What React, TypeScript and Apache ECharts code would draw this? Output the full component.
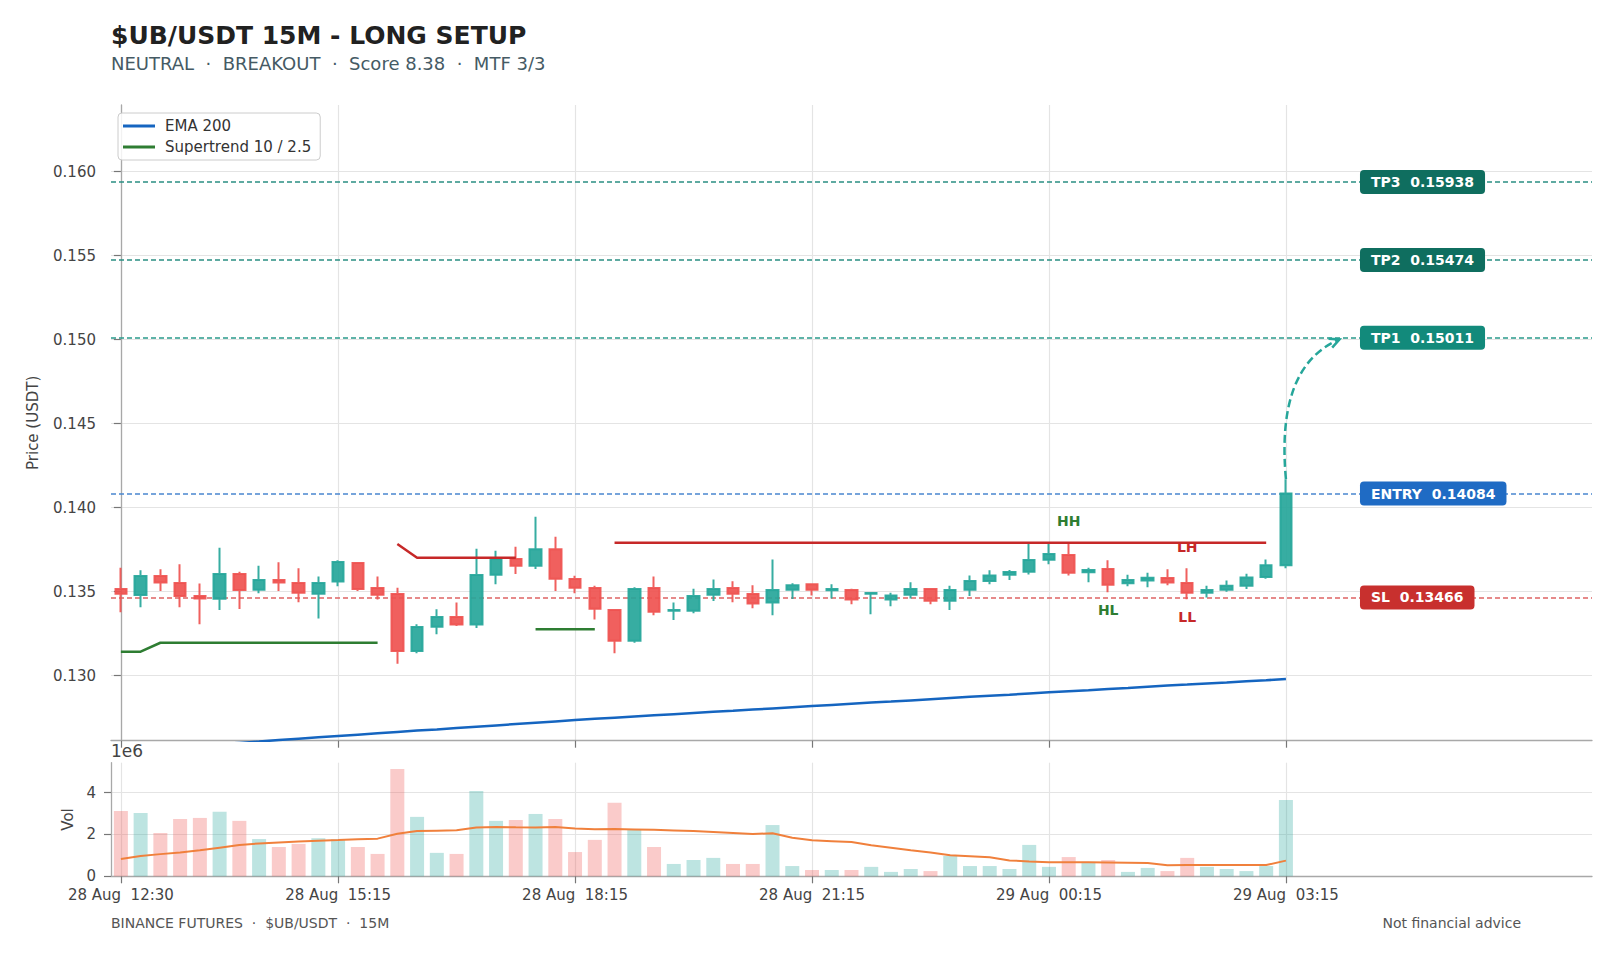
import React, { useEffect, useRef } from 'react';
import * as echarts from 'echarts';

// ---------- data ----------
const TIMES = [
  '12:30', '12:45', '13:00', '13:15', '13:30', '13:45', '14:00', '14:15', '14:30', '14:45',
  '15:00', '15:15', '15:30', '15:45', '16:00', '16:15', '16:30', '16:45', '17:00', '17:15',
  '17:30', '17:45', '18:00', '18:15', '18:30', '18:45', '19:00', '19:15', '19:30', '19:45',
  '20:00', '20:15', '20:30', '20:45', '21:00', '21:15', '21:30', '21:45', '22:00', '22:15',
  '22:30', '22:45', '23:00', '23:15', '23:30', '23:45', '00:00', '00:15', '00:30', '00:45',
  '01:00', '01:15', '01:30', '01:45', '02:00', '02:15', '02:30', '02:45', '03:00', '03:15',
];
const TICK_INDEX = [0, 11, 23, 35, 47, 59];
const TICK_LABELS = ['28 Aug  12:30', '28 Aug  15:15', '28 Aug  18:15', '28 Aug  21:15', '29 Aug  00:15', '29 Aug  03:15'];
const PRICE_TICKS = [0.13, 0.135, 0.14, 0.145, 0.15, 0.155, 0.16];
const VOL_TICKS = [0, 2, 4];

const OPEN = [
  0.13516, 0.13480, 0.13593, 0.13552, 0.13474, 0.13458, 0.13605, 0.13512, 0.13569, 0.13552,
  0.13488, 0.13560, 0.13671, 0.13522, 0.13486, 0.13147, 0.13292, 0.13349, 0.13304, 0.13601,
  0.13694, 0.13655, 0.13752, 0.13575, 0.13522, 0.13391, 0.13208, 0.13522, 0.13387, 0.13387,
  0.13482, 0.13522, 0.13486, 0.13435, 0.13512, 0.13544, 0.13508, 0.13510, 0.13488, 0.13454,
  0.13482, 0.13516, 0.13446, 0.13512, 0.13564, 0.13601, 0.13619, 0.13690, 0.13718, 0.13615,
  0.13635, 0.13550, 0.13566, 0.13581, 0.13552, 0.13494, 0.13512, 0.13536, 0.13587, 0.13657,
];
const CLOSE = [
  0.13488, 0.13593, 0.13554, 0.13474, 0.13460, 0.13605, 0.13510, 0.13569, 0.13554, 0.13494,
  0.13552, 0.13677, 0.13516, 0.13482, 0.13147, 0.13290, 0.13349, 0.13304, 0.13599, 0.13694,
  0.13655, 0.13752, 0.13577, 0.13524, 0.13399, 0.13208, 0.13516, 0.13381, 0.13391, 0.13474,
  0.13516, 0.13488, 0.13429, 0.13510, 0.13538, 0.13512, 0.13516, 0.13454, 0.13492, 0.13478,
  0.13516, 0.13446, 0.13510, 0.13564, 0.13597, 0.13617, 0.13688, 0.13724, 0.13613, 0.13629,
  0.13542, 0.13570, 0.13583, 0.13554, 0.13494, 0.13510, 0.13536, 0.13585, 0.13657, 0.14084,
];
const LOW = [
  0.13377, 0.13407, 0.13504, 0.13407, 0.13306, 0.13391, 0.13397, 0.13490, 0.13504, 0.13437,
  0.13341, 0.13532, 0.13504, 0.13454, 0.13071, 0.13133, 0.13246, 0.13296, 0.13284, 0.13544,
  0.13605, 0.13635, 0.13504, 0.13490, 0.13335, 0.13133, 0.13196, 0.13359, 0.13331, 0.13371,
  0.13444, 0.13437, 0.13401, 0.13359, 0.13456, 0.13478, 0.13460, 0.13425, 0.13365, 0.13413,
  0.13460, 0.13425, 0.13391, 0.13474, 0.13544, 0.13570, 0.13603, 0.13663, 0.13597, 0.13556,
  0.13496, 0.13532, 0.13526, 0.13538, 0.13455, 0.13465, 0.13500, 0.13516, 0.13577, 0.13639,
];
const HIGH = [
  0.13643, 0.13627, 0.13633, 0.13663, 0.13548, 0.13762, 0.13619, 0.13655, 0.13675, 0.13639,
  0.13591, 0.13687, 0.13677, 0.13591, 0.13524, 0.13306, 0.13395, 0.13435, 0.13756, 0.13744,
  0.13768, 0.13946, 0.13827, 0.13595, 0.13536, 0.13397, 0.13526, 0.13591, 0.13435, 0.13518,
  0.13573, 0.13562, 0.13538, 0.13692, 0.13550, 0.13550, 0.13544, 0.13518, 0.13494, 0.13494,
  0.13556, 0.13520, 0.13536, 0.13596, 0.13627, 0.13629, 0.13784, 0.13784, 0.13792, 0.13643,
  0.13687, 0.13601, 0.13613, 0.13633, 0.13639, 0.13536, 0.13566, 0.13607, 0.13692, 0.14170,
];
// volume in millions
const VOLUME = [
  3.12, 3.03, 2.07, 2.74, 2.79, 3.08, 2.65, 1.78, 1.40, 1.55,
  1.82, 1.77, 1.40, 1.07, 5.13, 2.84, 1.12, 1.07, 4.08, 2.65,
  2.69, 2.98, 2.74, 1.16, 1.74, 3.51, 2.25, 1.40, 0.59, 0.78,
  0.88, 0.59, 0.59, 2.45, 0.49, 0.30, 0.30, 0.30, 0.45, 0.21,
  0.35, 0.25, 0.97, 0.49, 0.49, 0.35, 1.50, 0.45, 0.92, 0.69,
  0.78, 0.21, 0.40, 0.25, 0.88, 0.45, 0.35, 0.25, 0.49, 3.65,
];
const VOLUME_MA = [
  0.83, 0.97, 1.06, 1.14, 1.24, 1.37, 1.50, 1.57, 1.62, 1.66,
  1.70, 1.73, 1.77, 1.80, 2.03, 2.16, 2.18, 2.20, 2.33, 2.36,
  2.34, 2.33, 2.36, 2.29, 2.25, 2.26, 2.24, 2.22, 2.19, 2.16,
  2.12, 2.07, 2.02, 2.06, 1.84, 1.72, 1.68, 1.64, 1.48, 1.37,
  1.25, 1.14, 1.01, 0.96, 0.91, 0.76, 0.71, 0.67, 0.67, 0.67,
  0.66, 0.65, 0.64, 0.53, 0.54, 0.54, 0.54, 0.54, 0.54, 0.75,
];
const EMA200 = [
  0.12551, 0.12559, 0.12567, 0.12575, 0.12584, 0.12592, 0.12600, 0.12608, 0.12617, 0.12625,
  0.12633, 0.12641, 0.12649, 0.12657, 0.12665, 0.12673, 0.12680, 0.12688, 0.12696, 0.12704,
  0.12712, 0.12720, 0.12728, 0.12736, 0.12743, 0.12750, 0.12757, 0.12764, 0.12771, 0.12778,
  0.12785, 0.12791, 0.12798, 0.12805, 0.12812, 0.12819, 0.12826, 0.12833, 0.12840, 0.12846,
  0.12853, 0.12860, 0.12867, 0.12874, 0.12881, 0.12887, 0.12894, 0.12901, 0.12908, 0.12914,
  0.12921, 0.12927, 0.12934, 0.12941, 0.12947, 0.12954, 0.12960, 0.12967, 0.12973, 0.12980,
];
const ST_UP = [
  0.13143, 0.13143, 0.13196, 0.13196, 0.13196, 0.13196, 0.13196, 0.13196, 0.13196, 0.13196,
  0.13196, 0.13196, 0.13196, 0.13196, null, null, null, null, null, null,
  null, 0.13276, 0.13276, 0.13276, 0.13276, null, null, null, null, null,
  null, null, null, null, null, null, null, null, null, null,
  null, null, null, null, null, null, null, null, null, null,
  null, null, null, null, null, null, null, null, null, null,
];
const ST_DOWN = [
  null, null, null, null, null, null, null, null, null, null,
  null, null, null, null, 0.13784, 0.13702, 0.13702, 0.13702, 0.13702, 0.13702,
  0.13702, null, null, null, null, 0.13792, 0.13792, 0.13792, 0.13792, 0.13792,
  0.13792, 0.13792, 0.13792, 0.13792, 0.13792, 0.13792, 0.13792, 0.13792, 0.13792, 0.13792,
  0.13792, 0.13792, 0.13792, 0.13792, 0.13792, 0.13792, 0.13792, 0.13792, 0.13792, 0.13792,
  0.13792, 0.13792, 0.13792, 0.13792, 0.13792, 0.13792, 0.13792, 0.13792, 0.13792, null,
];
const LEVEL_NAMES = ['TP3', 'TP2', 'TP1', 'ENTRY', 'SL'];
const LEVEL_PRICES = [0.15938, 0.15474, 0.15011, 0.14084, 0.13466];
const STRUCT_LABELS = ['HH', 'HL', 'LH', 'LL'];
const STRUCT_INDEX = [48, 50, 54, 54];
const STRUCT_PRICES = [0.1392, 0.13391, 0.13764, 0.13351];

// ---------- layout / style ----------
const FONT = '"DejaVu Sans", "Noto Sans", sans-serif';
const N_CATS = 75;
const LABEL_X = 62.75;
const ARROW_END_X = 61.9;
const UP = '#26a69a';
const DOWN = '#ef5350';
const LEVEL_BOX = ['#0f6e5f', '#0f6e5f', '#128a7b', '#1f6bc4', '#c8302e'];
const LEVEL_LINE = ['#2a8f82', '#2a8f82', '#2a9a8c', '#4a86d0', '#de6464'];
const STRUCT_COLORS = ['#2e7d32', '#2e7d32', '#c62828', '#c62828'];
const GRID_LEFT = 111;
const GRID_WIDTH = 1481;
const AXIS_COLOR = '#a8a8a8';
const SPLIT_COLOR = '#e4e4e4';
const LABEL_COLOR = '#444';

const CATS = [...TIMES, ...new Array(N_CATS - TIMES.length).fill('')];
const isTick = (i: number) => TICK_INDEX.indexOf(i) >= 0;

function buildOption(): any {
  const candleData = OPEN.map((o, i) => [o, CLOSE[i], LOW[i], HIGH[i]]);
  const volData = VOLUME.map((v, i) => ({
    value: v,
    itemStyle: { color: CLOSE[i] >= OPEN[i] ? 'rgba(38,166,154,0.3)' : 'rgba(239,83,80,0.3)' },
  }));
  const last = CLOSE.length - 1;

  return {
    animation: false,
    backgroundColor: '#ffffff',
    textStyle: { fontFamily: FONT },
    grid: [
      { left: GRID_LEFT, width: GRID_WIDTH, top: 105, height: 635.7 },
      { left: GRID_LEFT, width: GRID_WIDTH, top: 762.7, height: 113.6 },
    ],
    legend: {
      left: 118,
      top: 113,
      orient: 'vertical',
      selectedMode: false,
      icon: 'rect',
      itemWidth: 32,
      itemHeight: 3,
      itemGap: 5,
      padding: [5, 9, 5, 5],
      backgroundColor: 'rgba(255,255,255,0.85)',
      borderColor: '#cccccc',
      borderWidth: 1,
      borderRadius: 4,
      textStyle: { fontFamily: FONT, fontSize: 15, color: '#333', lineHeight: 16, padding: [0, 0, 0, 5] },
      data: ['EMA 200', 'Supertrend 10 / 2.5'],
    },
    xAxis: [
      {
        type: 'category',
        gridIndex: 0,
        data: CATS,
        boundaryGap: true,
        axisLine: { show: true, lineStyle: { color: AXIS_COLOR, width: 1.3 } },
        axisTick: { show: true, alignWithLabel: true, interval: (i: number) => isTick(i), length: 7, lineStyle: { color: '#777', width: 1.2 } },
        axisLabel: { show: false },
        splitLine: { show: true, alignWithLabel: true, interval: (i: number) => isTick(i), lineStyle: { color: SPLIT_COLOR, width: 1.2 } },
      },
      {
        type: 'value',
        gridIndex: 0,
        min: -0.5,
        max: N_CATS - 0.5,
        show: false,
        splitLine: { show: false },
      },
      {
        type: 'category',
        gridIndex: 1,
        data: CATS,
        boundaryGap: true,
        axisLine: { show: true, lineStyle: { color: AXIS_COLOR, width: 1.3 } },
        axisTick: { show: true, alignWithLabel: true, interval: (i: number) => isTick(i), length: 7, lineStyle: { color: '#777', width: 1.2 } },
        axisLabel: {
          show: true,
          interval: (i: number) => isTick(i),
          formatter: (_v: string, i: number) => {
            const k = TICK_INDEX.indexOf(i);
            return k >= 0 ? TICK_LABELS[k] : '';
          },
          color: LABEL_COLOR,
          fontSize: 15,
          fontFamily: FONT,
          margin: 11,
        },
        splitLine: { show: true, alignWithLabel: true, interval: (i: number) => isTick(i), lineStyle: { color: SPLIT_COLOR, width: 1.2 } },
      },
    ],
    yAxis: [
      {
        type: 'value',
        gridIndex: 0,
        min: 0.12613,
        max: 0.16397,
        name: 'Price (USDT)',
        nameLocation: 'middle',
        nameGap: 71,
        nameTextStyle: { color: LABEL_COLOR, fontSize: 15, fontFamily: FONT },
        axisLine: { show: true, lineStyle: { color: AXIS_COLOR, width: 1.3 } },
        axisTick: { show: true, customValues: PRICE_TICKS, length: 7, lineStyle: { color: '#777', width: 1.2 } },
        axisLabel: {
          customValues: PRICE_TICKS,
          formatter: (v: number) => v.toFixed(3),
          color: LABEL_COLOR,
          fontSize: 15,
          fontFamily: FONT,
          margin: 15,
        },
        splitLine: { show: true, lineStyle: { color: SPLIT_COLOR, width: 1.2 } },
      },
      {
        type: 'value',
        gridIndex: 1,
        min: 0,
        max: 5.43,
        name: 'Vol',
        nameLocation: 'middle',
        nameGap: 36,
        nameTextStyle: { color: LABEL_COLOR, fontSize: 15, fontFamily: FONT },
        axisLine: { show: true, lineStyle: { color: AXIS_COLOR, width: 1.3 } },
        axisTick: { show: true, customValues: VOL_TICKS, length: 7, lineStyle: { color: '#777', width: 1.2 } },
        axisLabel: {
          customValues: VOL_TICKS,
          formatter: (v: number) => String(v),
          color: LABEL_COLOR,
          fontSize: 15,
          fontFamily: FONT,
          margin: 15,
        },
        splitLine: { show: true, lineStyle: { color: SPLIT_COLOR, width: 1.2 } },
      },
    ],
    series: [
      {
        name: 'Price',
        type: 'candlestick',
        xAxisIndex: 0,
        yAxisIndex: 0,
        data: candleData,
        barWidth: 12,
        z: 3,
        itemStyle: {
          color: UP,
          color0: DOWN,
          borderColor: UP,
          borderColor0: DOWN,
          borderWidth: 2,
          opacity: 0.92,
        },
        markLine: {
          silent: true,
          symbol: 'none',
          precision: 6,
          z: 2,
          label: { show: false },
          data: LEVEL_PRICES.map((p, i) => ({
            yAxis: p,
            lineStyle: { color: LEVEL_LINE[i], type: [5, 3], width: 1.6 },
          })),
        },
      },
      {
        name: 'EMA 200',
        type: 'line',
        xAxisIndex: 0,
        yAxisIndex: 0,
        data: EMA200,
        color: '#1565c0',
        showSymbol: false,
        symbol: 'none',
        lineStyle: { color: '#1565c0', width: 2.5 },
        z: 4,
      },
      {
        name: 'Supertrend 10 / 2.5',
        type: 'line',
        xAxisIndex: 0,
        yAxisIndex: 0,
        data: ST_UP,
        color: '#2e7d32',
        showSymbol: false,
        symbol: 'none',
        connectNulls: false,
        lineStyle: { color: '#2e7d32', width: 2.5 },
        z: 5,
      },
      {
        name: 'Supertrend down',
        type: 'line',
        xAxisIndex: 0,
        yAxisIndex: 0,
        data: ST_DOWN,
        color: '#c62828',
        showSymbol: false,
        symbol: 'none',
        connectNulls: false,
        lineStyle: { color: '#c62828', width: 2.5 },
        z: 5,
      },
      {
        name: 'Structure',
        type: 'custom',
        xAxisIndex: 1,
        yAxisIndex: 0,
        z: 4,
        data: STRUCT_INDEX.map((x, i) => [x, STRUCT_PRICES[i]]),
        renderItem: (params: any, api: any) => {
          const p = api.coord([api.value(0), api.value(1)]);
          const i = params.dataIndex;
          return {
            type: 'text',
            x: p[0],
            y: p[1],
            style: {
              text: STRUCT_LABELS[i],
              fill: STRUCT_COLORS[i],
              font: `bold 14px ${FONT}`,
              align: 'center',
              verticalAlign: 'middle',
            },
          };
        },
      },
      {
        name: 'Arrow',
        type: 'custom',
        xAxisIndex: 1,
        yAxisIndex: 0,
        z: 6,
        data: [[last, HIGH[last], ARROW_END_X, LEVEL_PRICES[2]]],
        renderItem: (_params: any, api: any) => {
          const s = api.coord([api.value(0), api.value(1)]);
          let e = api.coord([api.value(2), api.value(3)]);
          const dx = e[0] - s[0];
          const dy = e[1] - s[1];
          const c = [s[0] - 0.18 * dx, s[1] + 0.8 * dy];
          const tx = e[0] - c[0];
          const ty = e[1] - c[1];
          const L = Math.hypot(tx, ty) || 1;
          const ux = tx / L;
          const uy = ty / L;
          e = [e[0] - 4 * ux, e[1] - 4 * uy];
          const head = 11;
          const a = 0.45;
          const bx = -ux;
          const by = -uy;
          const w1 = [e[0] + head * (bx * Math.cos(a) - by * Math.sin(a)), e[1] + head * (bx * Math.sin(a) + by * Math.cos(a))];
          const w2 = [e[0] + head * (bx * Math.cos(-a) - by * Math.sin(-a)), e[1] + head * (bx * Math.sin(-a) + by * Math.cos(-a))];
          return {
            type: 'group',
            children: [
              {
                type: 'bezierCurve',
                shape: { x1: s[0], y1: s[1], x2: e[0], y2: e[1], cpx1: c[0], cpy1: c[1] },
                style: { stroke: UP, lineWidth: 2.5, lineDash: [8, 4], fill: 'none' },
              },
              {
                type: 'polyline',
                shape: { points: [w1, e, w2] },
                style: { stroke: UP, lineWidth: 2.5, fill: 'none' },
              },
            ],
          };
        },
      },
      {
        name: 'Levels',
        type: 'custom',
        xAxisIndex: 1,
        yAxisIndex: 0,
        z: 7,
        data: LEVEL_PRICES.map((p) => [LABEL_X, p]),
        renderItem: (params: any, api: any) => {
          const p = api.coord([api.value(0), api.value(1)]);
          const i = params.dataIndex;
          return {
            type: 'text',
            x: p[0],
            y: p[1],
            style: {
              text: `${LEVEL_NAMES[i]}  ${LEVEL_PRICES[i].toFixed(5)}`,
              fill: '#ffffff',
              font: `bold 14px ${FONT}`,
              align: 'left',
              verticalAlign: 'middle',
              lineHeight: 16,
              backgroundColor: LEVEL_BOX[i],
              padding: [4, 11, 4, 11],
              borderRadius: 4,
            },
          };
        },
      },
      {
        name: 'Volume',
        type: 'bar',
        xAxisIndex: 2,
        yAxisIndex: 1,
        data: volData,
        barWidth: 14,
        z: 2,
      },
      {
        name: 'Volume MA',
        type: 'line',
        xAxisIndex: 2,
        yAxisIndex: 1,
        data: VOLUME_MA,
        showSymbol: false,
        symbol: 'none',
        lineStyle: { color: '#f0803c', width: 2 },
        z: 3,
      },
    ],
    graphic: [
      {
        type: 'text',
        x: 111,
        y: 35.5,
        style: { text: '$UB/USDT 15M - LONG SETUP', font: `bold 25px ${FONT}`, fill: '#212121', align: 'left', verticalAlign: 'middle' },
      },
      {
        type: 'text',
        x: 111,
        y: 63,
        style: { text: 'NEUTRAL  ·  BREAKOUT  ·  Score 8.38  ·  MTF 3/3', font: `18px ${FONT}`, fill: '#455a64', align: 'left', verticalAlign: 'middle' },
      },
      {
        type: 'text',
        x: 111,
        y: 751,
        style: { text: '1e6', font: `17px ${FONT}`, fill: LABEL_COLOR, align: 'left', verticalAlign: 'middle' },
      },
      {
        type: 'text',
        x: 111,
        y: 923,
        style: { text: 'BINANCE FUTURES  ·  $UB/USDT  ·  15M', font: `14px ${FONT}`, fill: '#555', align: 'left', verticalAlign: 'middle' },
      },
      {
        type: 'text',
        x: 1521,
        y: 923,
        style: { text: 'Not financial advice', font: `14px ${FONT}`, fill: '#555', align: 'right', verticalAlign: 'middle' },
      },
    ],
  };
}

export default function App() {
  const ref = useRef<HTMLDivElement>(null);
  useEffect(() => {
    const el = ref.current;
    if (!el) return;
    const chart = echarts.init(el, null, { renderer: 'svg' });
    chart.setOption(buildOption());
    return () => {
      chart.dispose();
    };
  }, []);
  return (
    <div
      ref={ref}
      style={{ position: 'fixed', left: 0, top: 0, width: 1614, height: 957, background: '#ffffff' }}
    />
  );
}
